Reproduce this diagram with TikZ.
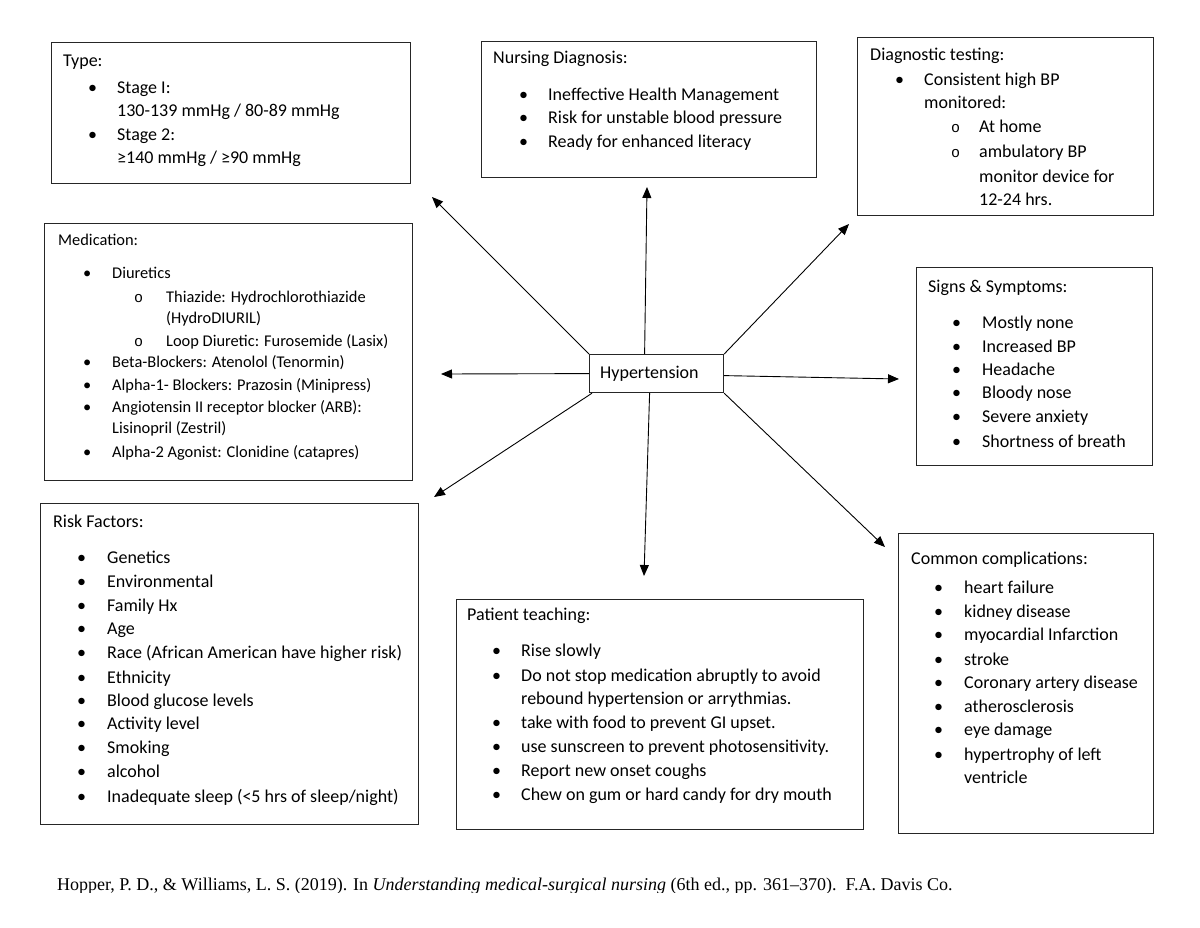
\documentclass[tikz,border=0pt]{standalone}
\usepackage{fontspec}
\setmainfont{Carlito}
\newfontfamily\citef{Liberation Serif}
\newfontfamily\monof{Liberation Mono}
\usetikzlibrary{arrows.meta}
\newcommand\mainsz{\fontsize{18}{22}\selectfont}
\newcommand\medsz{\fontsize{16.4}{20}\selectfont}
\tikzset{
  boxst/.style={draw=black!85, line width=1.2pt, anchor=north west, inner sep=0pt, fill=none},
  txt/.style={anchor=base west, inner sep=0pt, font=\mainsz},
  mtxt/.style={anchor=base west, inner sep=0pt, font=\medsz},
  bul/.style={anchor=base west, inner sep=0pt, font=\mainsz},
  sbul/.style={anchor=base west, inner sep=0pt, font=\monof\fontsize{15}{18}\selectfont},
  conn/.style={draw=black, line width=0.9pt, -{Triangle[length=11pt,width=9pt]}},
}
\begin{document}
\begin{tikzpicture}[x=1pt,y=-1pt]
\useasboundingbox (0,0) rectangle (1200,927);
\fill[white] (0,0) rectangle (1200,927);

% ---------- boxes ----------
\node[boxst, minimum width=359pt, minimum height=141pt] (typeB) at (51,42) {};
\node[boxst, minimum width=335pt, minimum height=136pt] (nursB) at (481,41) {};
\node[boxst, minimum width=296pt, minimum height=178pt] (diagB) at (857,37) {};
\node[boxst, minimum width=368pt, minimum height=257pt] (medB) at (44,223) {};
\node[boxst, minimum width=236pt, minimum height=198pt] (signB) at (916,267) {};
\node[boxst, minimum width=378pt, minimum height=321pt] (riskB) at (40,503) {};
\node[boxst, minimum width=407pt, minimum height=230pt] (patB) at (456,599) {};
\node[boxst, minimum width=255pt, minimum height=300pt] (compB) at (898,533) {};
\node[boxst, minimum width=134pt, minimum height=38pt] (hyp) at (589,354) {};
\node[txt] (hypT) at (600,378) {Hypertension};

% ---------- Type ----------
\node[txt] (ty0) at (63,66) {Type:};
\node[bul] (tyb1) at (88,93) {•};
\node[txt] (ty1) at (117,93) {Stage I:};
\node[txt] (ty2) at (117,116) {130-139 mmHg / 80-89 mmHg};
\node[bul] (tyb2) at (88,140) {•};
\node[txt] (ty3) at (117,140) {Stage 2:};
\node[txt] (ty4) at (117,163) {≥140 mmHg / ≥90 mmHg};

% ---------- Nursing Diagnosis ----------
\node[txt] (nd0) at (493,63) {Nursing Diagnosis:};
\node[bul] (ndb1) at (519,100) {•};
\node[txt] (nd1) at (548,100) {Ineffective Health Management};
\node[bul] (ndb2) at (519,123) {•};
\node[txt] (nd2) at (548,123) {Risk for unstable blood pressure};
\node[bul] (ndb3) at (519,147) {•};
\node[txt] (nd3) at (548,147) {Ready for enhanced literacy};

% ---------- Diagnostic testing ----------
\node[txt] (dt0) at (870,60) {Diagnostic testing:};
\node[bul] (dtb1) at (895,85) {•};
\node[txt] (dt1) at (924,85) {Consistent high BP};
\node[txt] (dt2) at (924,108) {monitored:};
\node[sbul] (dtb2) at (951,132) {o};
\node[txt] (dt3) at (979,132) {At home};
\node[sbul] (dtb3) at (951,157) {o};
\node[txt] (dt4) at (979,157) {ambulatory BP};
\node[txt] (dt5) at (979,182) {monitor device for};
\node[txt] (dt6) at (979,205) {12-24 hrs.};

% ---------- Medication ----------
\node[mtxt] (md0) at (58,245) {Medication:};
\node[mtxt] (mdb1) at (83,278) {•};
\node[mtxt] (md1) at (112,278) {Diuretics};
\node[sbul] (mdb2) at (134,302) {o};
\node[mtxt] (md2) at (166,302) {Thiazide: Hydrochlorothiazide};
\node[mtxt] (md3) at (166,323) {(HydroDIURIL)};
\node[sbul] (mdb3) at (134,346) {o};
\node[mtxt] (md4) at (166,346) {Loop Diuretic: Furosemide (Lasix)};
\node[mtxt] (mdb4) at (83,367) {•};
\node[mtxt] (md5) at (112,367) {Beta-Blockers: Atenolol (Tenormin)};
\node[mtxt] (mdb5) at (83,390) {•};
\node[mtxt] (md6) at (112,390) {Alpha-1- Blockers: Prazosin (Minipress)};
\node[mtxt] (mdb6) at (83,412) {•};
\node[mtxt] (md7) at (112,412) {Angiotensin II receptor blocker (ARB):};
\node[mtxt] (md8) at (112,433) {Lisinopril (Zestril)};
\node[mtxt] (mdb7) at (83,457) {•};
\node[mtxt] (md9) at (112,457) {Alpha-2 Agonist: Clonidine (catapres)};

% ---------- Signs & Symptoms ----------
\node[txt] (ss0) at (928,292) {Signs \& Symptoms:};
\node[bul] (ssb1) at (952,328) {•};
\node[txt] (ss1) at (982,328) {Mostly none};
\node[bul] (ssb2) at (952,352) {•};
\node[txt] (ss2) at (982,352) {Increased BP};
\node[bul] (ssb3) at (952,375) {•};
\node[txt] (ss3) at (982,375) {Headache};
\node[bul] (ssb4) at (952,398) {•};
\node[txt] (ss4) at (982,398) {Bloody nose};
\node[bul] (ssb5) at (952,422) {•};
\node[txt] (ss5) at (982,422) {Severe anxiety};
\node[bul] (ssb6) at (952,447) {•};
\node[txt] (ss6) at (982,447) {Shortness of breath};

% ---------- Risk Factors ----------
\node[txt] (rf0) at (53,527) {Risk Factors:};
\node[bul] (rfb1) at (77,563) {•};   \node[txt] (rf1) at (107,563) {Genetics};
\node[bul] (rfb2) at (77,587) {•};   \node[txt] (rf2) at (107,587) {Environmental};
\node[bul] (rfb3) at (77,611) {•};   \node[txt] (rf3) at (107,611) {Family Hx};
\node[bul] (rfb4) at (77,634) {•};   \node[txt] (rf4) at (107,634) {Age};
\node[bul] (rfb5) at (77,658) {•};   \node[txt] (rf5) at (107,658) {Race (African American have higher risk)};
\node[bul] (rfb6) at (77,683) {•};   \node[txt] (rf6) at (107,683) {Ethnicity};
\node[bul] (rfb7) at (77,706) {•};   \node[txt] (rf7) at (107,706) {Blood glucose levels};
\node[bul] (rfb8) at (77,729) {•};   \node[txt] (rf8) at (107,729) {Activity level};
\node[bul] (rfb9) at (77,753) {•};   \node[txt] (rf9) at (107,753) {Smoking};
\node[bul] (rfb10) at (77,777) {•};  \node[txt] (rf10) at (107,777) {alcohol};
\node[bul] (rfb11) at (77,802) {•};  \node[txt] (rf11) at (107,802) {Inadequate sleep (<5 hrs of sleep/night)};

% ---------- Patient teaching ----------
\node[txt] (pt0) at (467,620) {Patient teaching:};
\node[bul] (ptb1) at (492,656) {•}; \node[txt] (pt1) at (521,656) {Rise slowly};
\node[bul] (ptb2) at (492,681) {•}; \node[txt] (pt2) at (521,681) {Do not stop medication abruptly to avoid};
\node[txt] (pt3) at (521,704) {rebound hypertension or arrythmias.};
\node[bul] (ptb3) at (492,728) {•}; \node[txt] (pt4) at (521,728) {take with food to prevent GI upset.};
\node[bul] (ptb4) at (492,752) {•}; \node[txt] (pt5) at (521,752) {use sunscreen to prevent photosensitivity.};
\node[bul] (ptb5) at (492,776) {•}; \node[txt] (pt6) at (521,776) {Report new onset coughs};
\node[bul] (ptb6) at (492,800) {•}; \node[txt] (pt7) at (521,800) {Chew on gum or hard candy for dry mouth};

% ---------- Common complications ----------
\node[txt] (cc0) at (911,564) {Common complications:};
\node[bul] (ccb1) at (934,593) {•}; \node[txt] (cc1) at (964,593) {heart failure};
\node[bul] (ccb2) at (934,617) {•}; \node[txt] (cc2) at (964,617) {kidney disease};
\node[bul] (ccb3) at (934,640) {•}; \node[txt] (cc3) at (964,640) {myocardial Infarction};
\node[bul] (ccb4) at (934,665) {•}; \node[txt] (cc4) at (964,665) {stroke};
\node[bul] (ccb5) at (934,688) {•}; \node[txt] (cc5) at (964,688) {Coronary artery disease};
\node[bul] (ccb6) at (934,712) {•}; \node[txt] (cc6) at (964,712) {atherosclerosis};
\node[bul] (ccb7) at (934,735) {•}; \node[txt] (cc7) at (964,735) {eye damage};
\node[bul] (ccb8) at (934,760) {•}; \node[txt] (cc8) at (964,760) {hypertrophy of left};
\node[txt] (cc9) at (964,783) {ventricle};

% ---------- connectors ----------
\coordinate (eUL) at (432,197);
\coordinate (eU) at (647,187);
\coordinate (eUR) at (849,224);
\coordinate (eR) at (899,379);
\coordinate (eDR) at (885,547);
\coordinate (eD) at (644,576);
\coordinate (eDL) at (434,497);
\coordinate (eL) at (441,374);
\draw[conn] (hyp.north west) -- (eUL);
\draw[conn] ([xshift=-12pt]hyp.north) -- (eU);
\draw[conn] (hyp.north east) -- (eUR);
\draw[conn] ([yshift=-2pt]hyp.east) -- (eR);
\draw[conn] (hyp.south east) -- (eDR);
\draw[conn] ([xshift=-7pt]hyp.south) -- (eD);
\draw[conn] ([xshift=3pt]hyp.south west) -- (eDL);
\draw[conn] (hyp.west) -- (eL);

% ---------- citation ----------
\begin{scope}
\clip (0,860) rectangle (1200,892);
\node[anchor=base west, inner sep=0pt, font=\citef\fontsize{18}{22}\selectfont] (cite) at (57,890) {Hopper, P. D., \& Williams, L. S. (2019). In \textit{Understanding medical-surgical nursing} (6th ed., pp. 361–370).\ \ F.A. Davis Co.};
\end{scope}
\end{tikzpicture}
\end{document}
